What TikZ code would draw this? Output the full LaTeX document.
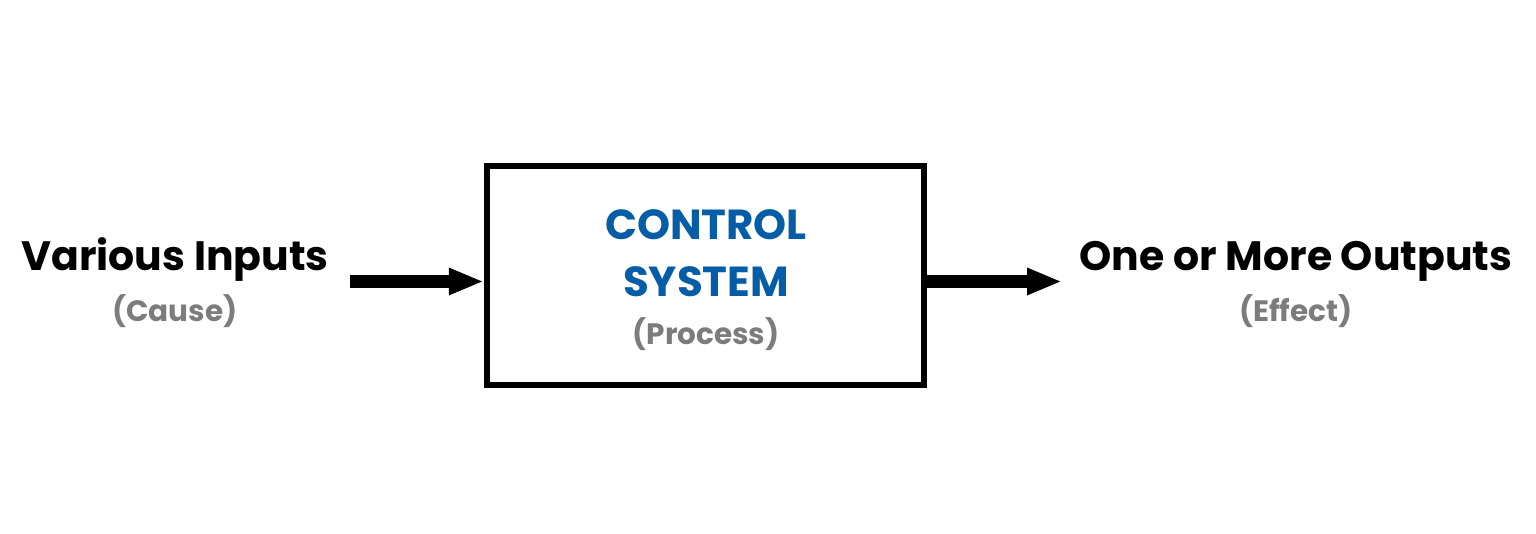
\documentclass[tikz,border=0pt]{standalone}
\usepackage{fontspec}
\setmainfont{Poppins}
\usetikzlibrary{arrows.meta,positioning}
\definecolor{ctrlblue}{HTML}{055DA7}
\definecolor{notegray}{HTML}{7C7C7C}
\tikzset{
    mainlabel/.style={font=\fontsize{41}{43}\selectfont\bfseries, anchor=base, inner sep=0pt},
    notelabel/.style={font=\fontsize{29.5}{31}\selectfont\bfseries, text=notegray, anchor=base, inner sep=0pt},
    blocktitle/.style={font=\fontsize{42}{44}\selectfont\bfseries, text=ctrlblue, anchor=base, inner sep=0pt},
    block/.style={draw, line width=6.5pt, minimum width=437pt, minimum height=219pt, inner sep=0pt},
    flow/.style={line width=13pt, -{Triangle[length=35pt,width=25pt]}}
}

\begin{document}
\begin{tikzpicture}[x=1pt,y=1pt]
		\useasboundingbox (0,0) rectangle (1536,534);

		% process block
		\node[block] (box) at (705.5,258.5) {};
		\node[blocktitle] (ctrl) at (706,294) {CONTROL};
		\node[blocktitle] (sys) at (706,237) {SYSTEM};
		\node[notelabel] (proc) at (706,189) {(Process)};

		% input side
		\node[mainlabel] (inputs) at (175,263) {Various Inputs};
		\node[notelabel] (cause) at (175,212) {(Cause)};
		\coordinate (instart) at (350,252.5);
		\draw[flow] (instart) -- (box.west |- instart);

		% output side
		\node[mainlabel] (outputs) at (1296,263) {One or More Outputs};
		\node[notelabel] (effect) at (1296,212) {(Effect)};
		\coordinate (outend) at (1062,252.5);
		\draw[flow] (box.east |- outend) -- (outend);
	\end{tikzpicture}
\end{document}
